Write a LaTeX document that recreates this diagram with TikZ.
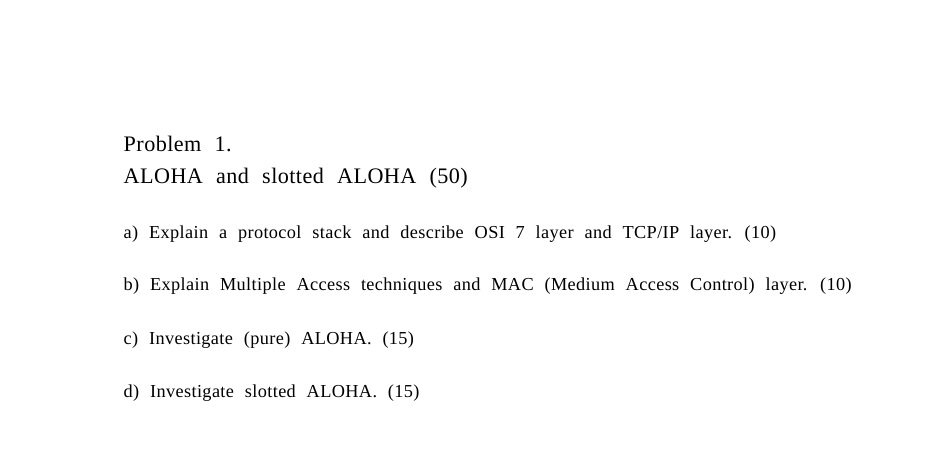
\documentclass[tikz,border=0pt]{standalone}
\usepackage{fontspec}
\setmainfont{Liberation Serif}[LetterSpace=2,WordSpace=2.2]
\begin{document}
\begin{tikzpicture}[x=0.01cm,y=-0.01cm,
  t/.style={anchor=base west,inner sep=0pt,font=\fontsize{5.2pt}{6pt}\selectfont},
  h/.style={anchor=base west,inner sep=0pt,font=\fontsize{6.3pt}{7pt}\selectfont}]
\useasboundingbox (0,0) rectangle (947,461);
\node[h] (p) at (123,152) {Problem 1.};
\node[h] (q) at (123,184) {ALOHA and slotted ALOHA (50)};
\node[t] (a) at (123,239) {a) Explain a protocol stack and describe OSI 7 layer and TCP/IP layer. (10)};
\node[t] (b) at (123,291) {b) Explain Multiple Access techniques and MAC (Medium Access Control) layer. (10)};
\node[t] (c) at (123,345) {c) Investigate (pure) ALOHA. (15)};
\node[t] (d) at (123,398) {d) Investigate slotted ALOHA. (15)};
\end{tikzpicture}
\end{document}
